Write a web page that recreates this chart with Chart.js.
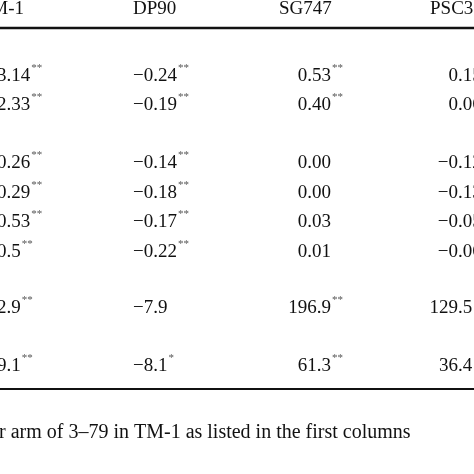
<!DOCTYPE html>
<html>
<head>
    <title>Table</title>
    <script src="https://cdn.jsdelivr.net/npm/chart.js"></script>
    <style>
        html, body { margin: 0; padding: 0; background: #fff; }
        .chart-container { width: 474px; height: 474px; }
    </style>
</head>
<body>
    <div class="chart-container">
        <canvas id="table-chart"></canvas>
    </div>
    <script>
        // Column headers (left part of the table is cropped off)
        const headers = ['M-1', 'DP90', 'SG747', 'PSC3'];
        // Values per column, one entry per row
        const tm1 = ['3.14', '2.33', '0.26', '0.29', '0.53', '0.5', '2.9', '9.1'];
        const tm1Stars = ['**', '**', '**', '**', '**', '**', '**', '**'];
        const dp90 = ['\u22120.24', '\u22120.19', '\u22120.14', '\u22120.18', '\u22120.17', '\u22120.22', '\u22127.9', '\u22128.1'];
        const dp90Stars = ['**', '**', '**', '**', '**', '**', '', '*'];
        const sg747 = ['0.53', '0.40', '0.00', '0.00', '0.03', '0.01', '196.9', '61.3'];
        const sg747Stars = ['**', '**', '', '', '', '', '**', '**'];
        const psc3 = ['0.15', '0.06', '\u22120.12', '\u22120.13', '\u22120.05', '\u22120.06', '129.5', '36.4'];
        const psc3Stars = ['', '', '', '', '', '', '', ''];
        const footnote = 'r arm of 3\u201379 in TM-1 as listed in the first columns';

        // layout in the 0..474 coordinate space of the hidden scales
        const rowY = [76, 105, 163, 193, 222, 252, 308, 366];
        const columns = [
            { values: tm1, stars: tm1Stars, x: -3, align: 'left' },
            { values: dp90, stars: dp90Stars, x: 133, align: 'left' },
            { values: sg747, stars: sg747Stars, x: 331, align: 'right' },
            { values: psc3, stars: psc3Stars, x: 458, align: 'decimal' }
        ];
        const headerX = [{ x: 24, align: 'right' }, { x: 133, align: 'left' }, { x: 279, align: 'left' }, { x: 430, align: 'left' }];

        const FONT = '19px "Liberation Serif", "DejaVu Serif", serif';
        const FOOT_FONT = '20px "Liberation Serif", "DejaVu Serif", serif';
        const STAR_FONT = '11px "Liberation Serif", serif';

        const tablePlugin = {
            id: 'tableText',
            afterDraw(chart) {
                const ctx = chart.ctx;
                const xs = chart.scales.x, ys = chart.scales.y;
                const px = v => xs.getPixelForValue(v);
                const py = v => ys.getPixelForValue(v);
                ctx.save();
                ctx.fillStyle = '#111';
                ctx.strokeStyle = '#111';
                ctx.textBaseline = 'middle';
                ctx.font = FONT;

                headers.forEach((h, i) => {
                    ctx.textAlign = headerX[i].align;
                    ctx.fillText(h, px(headerX[i].x), py(9));
                });

                // rules
                ctx.lineWidth = 2.5;
                ctx.beginPath();
                ctx.moveTo(px(0), py(28)); ctx.lineTo(px(474), py(28));
                ctx.stroke();
                ctx.lineWidth = 2;
                ctx.beginPath();
                ctx.moveTo(px(0), py(389)); ctx.lineTo(px(474), py(389));
                ctx.stroke();

                columns.forEach(col => {
                    col.values.forEach((v, r) => {
                        ctx.font = FONT;
                        const w = ctx.measureText(v).width;
                        let left;
                        if (col.align === 'left') left = px(col.x);
                        else if (col.align === 'right') left = px(col.x) - w;
                        else left = px(col.x) - ctx.measureText(v.split('.')[0]).width;
                        ctx.textAlign = 'left';
                        ctx.fillText(v, left, py(rowY[r]));
                        if (col.stars[r]) {
                            ctx.font = STAR_FONT;
                            ctx.fillStyle = '#555';
                            ctx.fillText(col.stars[r], left + w + 1, py(rowY[r] - 8));
                            ctx.fillStyle = '#111';
                        }
                    });
                });

                ctx.font = FOOT_FONT;
                ctx.textAlign = 'left';
                ctx.fillText(footnote, px(-1), py(433));
                ctx.restore();
            }
        };

        new Chart(document.getElementById('table-chart'), {
            type: 'scatter',
            data: { datasets: [{ data: rowY.map(y => ({ x: 0, y: y })), pointRadius: 0 }] },
            options: {
                responsive: true,
                maintainAspectRatio: false,
                animation: false,
                layout: { padding: 0 },
                plugins: { legend: { display: false }, tooltip: { enabled: false } },
                scales: {
                    x: { type: 'linear', min: 0, max: 474, display: false },
                    y: { type: 'linear', min: 0, max: 474, reverse: true, display: false }
                }
            },
            plugins: [tablePlugin]
        });
    </script>
</body>
</html>
